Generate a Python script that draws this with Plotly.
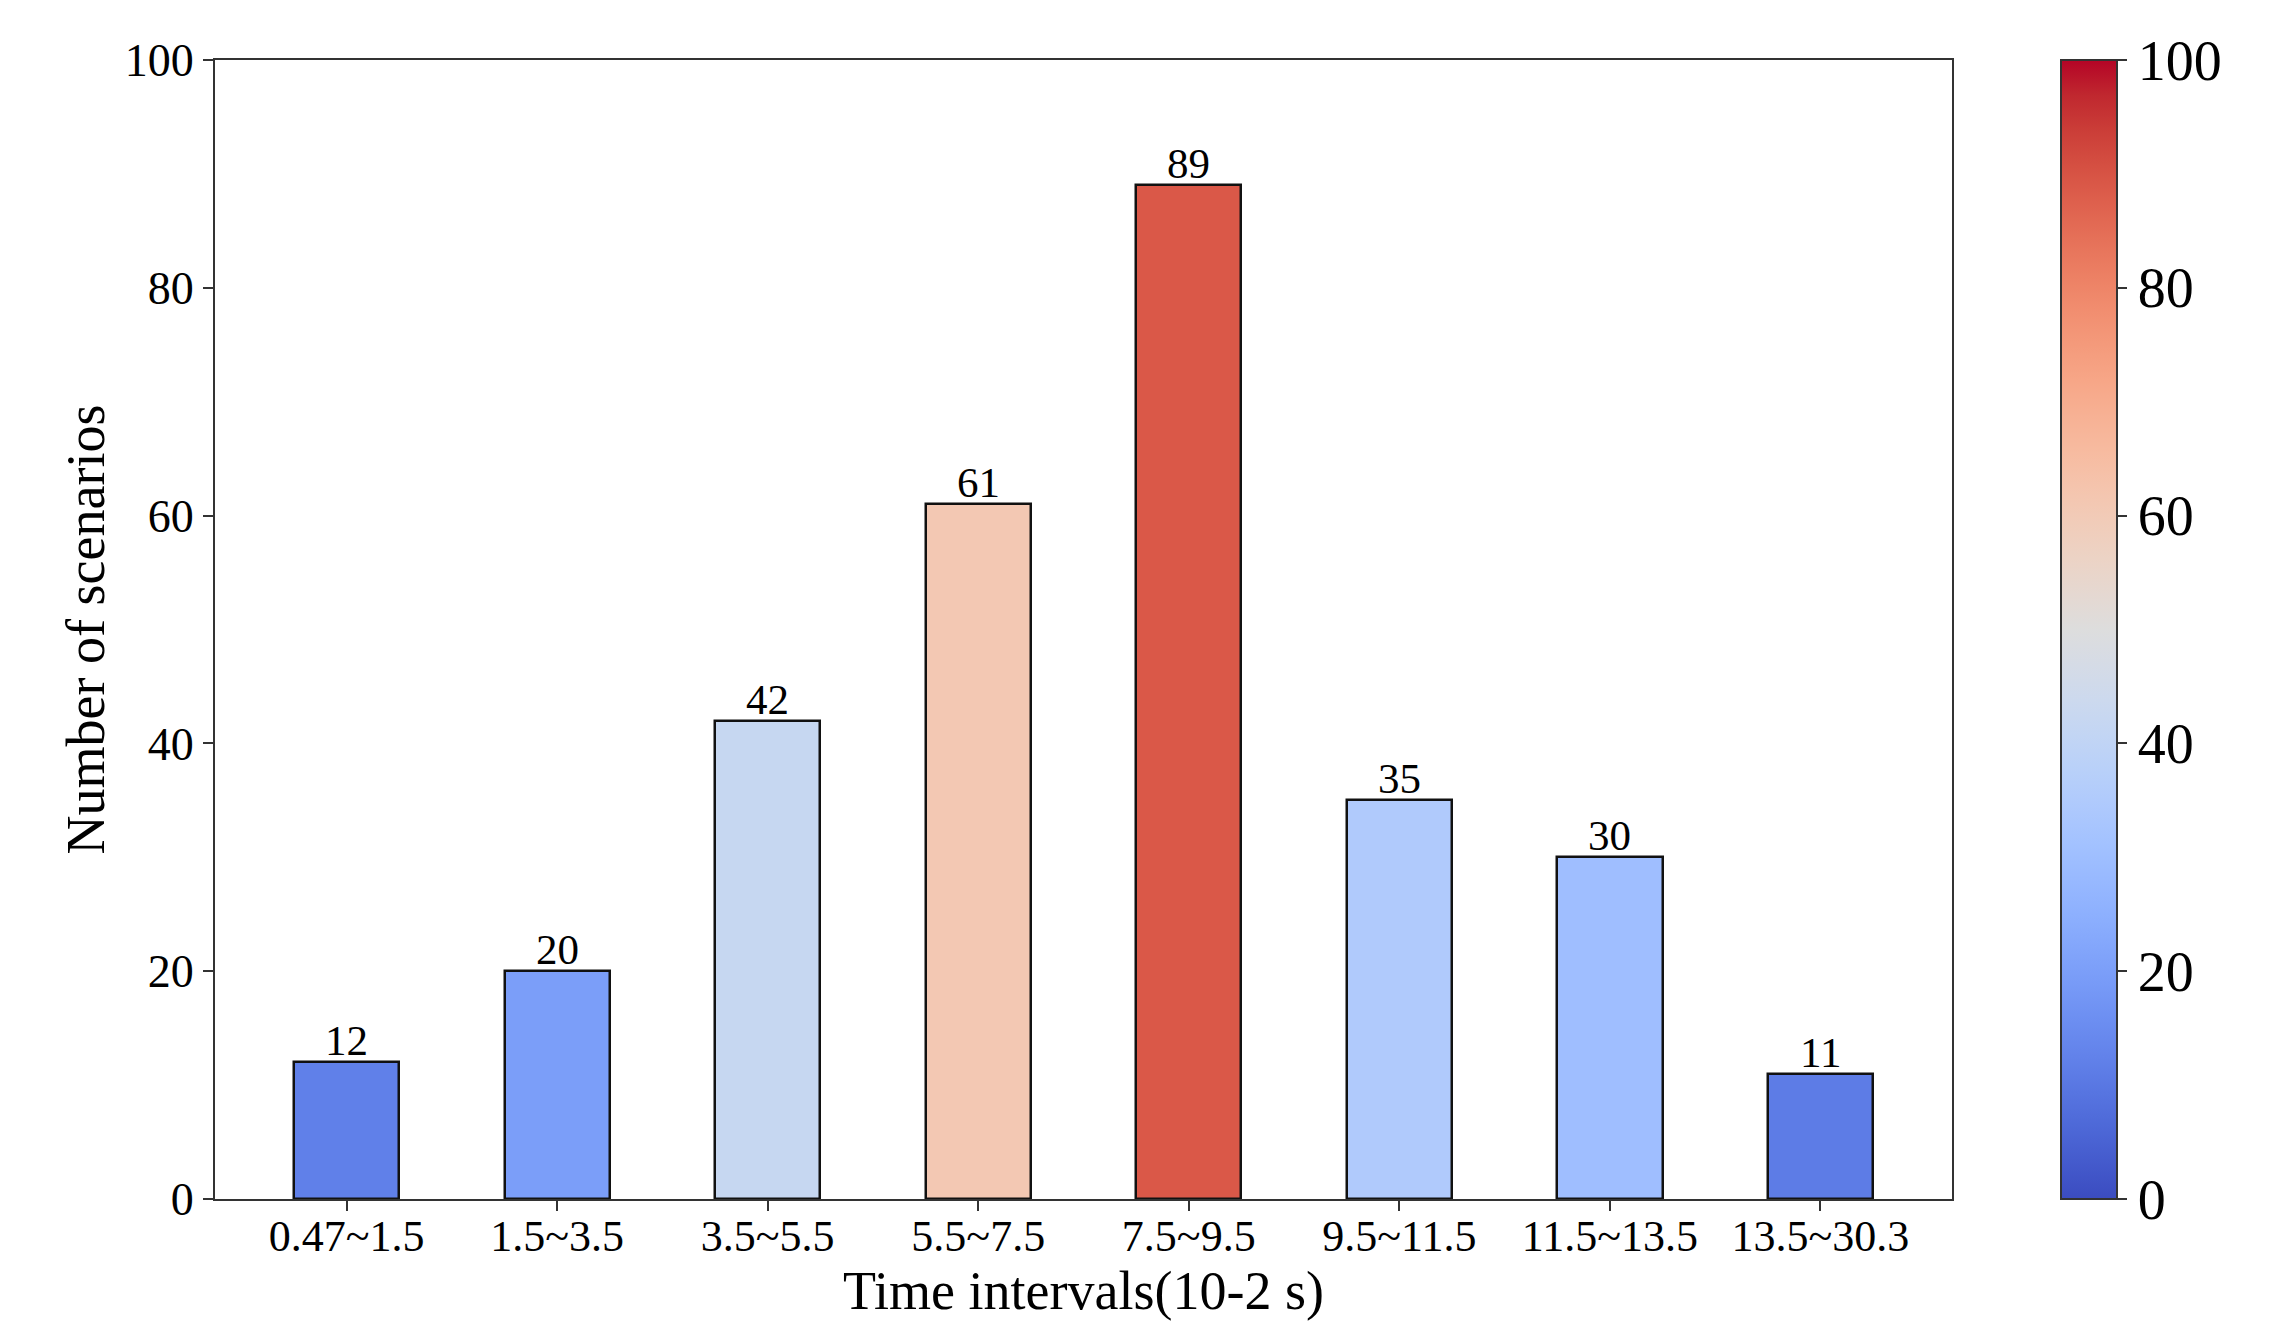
import plotly.graph_objects as go

categories = ["0.47~1.5", "1.5~3.5", "3.5~5.5", "5.5~7.5", "7.5~9.5",
              "9.5~11.5", "11.5~13.5", "13.5~30.3"]
counts = [12, 20, 42, 61, 89, 35, 30, 11]
y_ticks = [0, 20, 40, 60, 80, 100]

# matplotlib 'coolwarm' colormap (Moreland diverging map)
_cw = [
    (59, 76, 192), (68, 90, 204), (77, 104, 215), (87, 117, 225), (98, 130, 234),
    (108, 142, 241), (119, 154, 247), (130, 165, 251), (141, 176, 254), (152, 185, 255),
    (163, 194, 255), (174, 201, 253), (184, 208, 249), (194, 213, 244), (204, 217, 238),
    (213, 219, 230), (221, 221, 221), (229, 216, 209), (236, 211, 197), (241, 204, 185),
    (245, 196, 173), (247, 187, 160), (247, 177, 148), (247, 166, 135), (244, 154, 123),
    (241, 141, 111), (236, 127, 99), (229, 112, 88), (222, 96, 77), (213, 80, 66),
    (203, 62, 56), (192, 40, 47), (180, 4, 38),
]
coolwarm = [[i / (len(_cw) - 1), "rgb(%d,%d,%d)" % c] for i, c in enumerate(_cw)]

FONT = "Liberation Serif, Times New Roman, serif"
AX = "#333333"

W, H = 2274, 1336
OFF = 8  # page body margin
L, R, T, B = 215 - OFF, 1952 - OFF, 60 - OFF, 1199 - OFF
CB_X = 2061 - OFF

xs = list(range(len(categories)))

fig = go.Figure(go.Bar(
    x=xs,
    y=counts,
    width=0.5,
    marker=dict(
        color=counts,
        colorscale=coolwarm,
        cmin=0, cmax=100,
        line=dict(color="#111111", width=2.5),
        showscale=True,
        colorbar=dict(
            x=(CB_X - L) / (R - L), xanchor="left", xref="paper",
            y=0.5, yanchor="middle", len=1, lenmode="fraction",
            thickness=56, xpad=0, ypad=0,
            outlinewidth=2, outlinecolor=AX,
            tickvals=y_ticks, ticks="outside", ticklen=9, tickwidth=2, tickcolor=AX,
            tickfont=dict(family=FONT, size=56, color="black"),
        ),
    ),
))

for xi, v in zip(xs, counts):
    fig.add_annotation(
        x=xi, y=v, text=str(v), showarrow=False,
        xanchor="center", yanchor="bottom", yshift=-4,
        font=dict(family=FONT, size=43, color="black"),
    )

fig.update_layout(
    width=W, height=H,
    margin=dict(l=L, r=W - R, t=T, b=H - B),
    plot_bgcolor="white", paper_bgcolor="white",
    showlegend=False,
    bargap=0,
)

fig.update_xaxes(
    range=[-0.625, 7.625],
    tickvals=xs,
    ticktext=categories,
    ticks="outside", ticklen=10, tickwidth=2, tickcolor=AX,
    ticklabelstandoff=-13,
    showline=True, linecolor=AX, linewidth=2, mirror=True,
    showgrid=False, zeroline=False,
    tickfont=dict(family=FONT, size=44, color="black"),
    title=dict(text="Time intervals(10-2 s)", font=dict(family=FONT, size=54, color="black"), standoff=4),
    automargin=False,
)
fig.update_yaxes(
    range=[0, 100],
    tickvals=y_ticks,
    ticks="outside", ticklen=10, tickwidth=2, tickcolor=AX,
    showline=True, linecolor=AX, linewidth=2, mirror=True,
    showgrid=False, zeroline=False,
    tickfont=dict(family=FONT, size=46, color="black"),
    title=dict(text="Number of scenarios", font=dict(family=FONT, size=54, color="black"), standoff=3),
    automargin=False,
)

fig.write_html("out.html")
